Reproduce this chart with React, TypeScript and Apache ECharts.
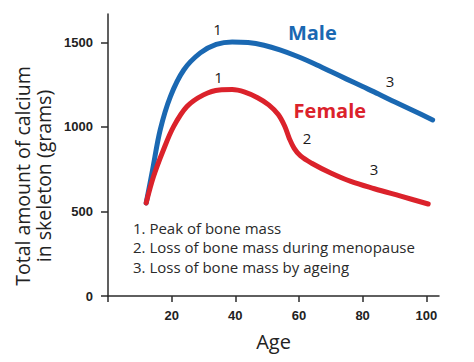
import React, { useEffect, useRef } from "react";
import * as echarts from "echarts";

const maleAge = [12, 14, 16.4, 19.6, 23.8, 29, 34, 39, 44, 49, 54, 59.6, 65, 70, 75, 80, 85, 90, 96, 102];
const maleCa = [550, 745, 982, 1179, 1336, 1437, 1487, 1502, 1498, 1482, 1455, 1416, 1372, 1327, 1282, 1238, 1194, 1148, 1095, 1041];

const femaleAge = [12, 14.3, 17.4, 20.6, 24.8, 30, 35, 39, 43, 47, 50.5, 53.5, 55.5, 57, 58.5, 60.5, 64, 70, 76.3, 83.7, 92, 100.6];
const femaleCa = [550, 706, 863, 1001, 1120, 1189, 1218, 1220, 1205, 1172, 1130, 1073, 1005, 930, 873, 828, 785, 727, 677, 634, 590, 544];

const xTicks = [0, 20, 40, 60, 80, 100];
const xLabels = [20, 40, 60, 80, 100];
const yTicks = [0, 500, 1000, 1500];

// annotation labels: [age, calcium, text]
const numberMarks: [number, number, string][] = [
  [34.4, 1579, "1"],
  [34.7, 1295, "1"],
  [62.5, 934, "2"],
  [88.6, 1271, "3"],
  [83.6, 751, "3"],
];
const seriesNames: [number, number, string][] = [
  [64.2, 1555, "Male"],
  [69.7, 1094, "Female"],
];

const notes = [
  "1. Peak of bone mass",
  "2. Loss of bone mass during menopause",
  "3. Loss of bone mass by ageing",
];

const yTitle = ["Total amount of calcium", "in skeleton (grams)"];

const MALE = "#1a68b2";
const FEMALE = "#db222b";
const AXIS = "#2b2b2b";

export default function App() {
  const ref = useRef<HTMLDivElement>(null);
  useEffect(() => {
    if (!ref.current) return;
    const chart = echarts.init(ref.current, null, { renderer: "svg" });
    const zip = (a: number[], b: number[]) => a.map((v, i) => [v, b[i]]);
    chart.setOption({
      animation: false,
      grid: { left: 108, right: 35, top: 14, bottom: 66 },
      xAxis: {
        type: "value",
        min: 0,
        max: 104,
        interval: 20,
        splitLine: { show: false },
        axisLine: { lineStyle: { color: AXIS, width: 1.5 } },
        axisTick: { show: true, length: 6, customValues: xTicks, lineStyle: { color: AXIS, width: 1.5 } },
        axisLabel: {
          customValues: xLabels,
          formatter: (v: number) => String(v),
          margin: 13,
          color: "#222",
          fontSize: 13,
          fontWeight: "bold",
          fontFamily: "Liberation Sans",
        },
        name: "Age",
        nameLocation: "middle",
        nameGap: 35,
        nameTextStyle: { color: "#222", fontSize: 20, fontFamily: "Open Sans" },
      },
      yAxis: {
        type: "value",
        min: 0,
        max: 1667,
        interval: 500,
        splitLine: { show: false },
        axisLine: { show: true, lineStyle: { color: AXIS, width: 1.5 } },
        axisTick: { show: true, length: 7, customValues: yTicks, lineStyle: { color: AXIS, width: 1.5 } },
        axisLabel: {
          customValues: yTicks,
          formatter: (v: number) => String(v),
          margin: 15,
          color: "#222",
          fontSize: 13,
          fontWeight: "bold",
          fontFamily: "Liberation Sans",
        },
      },
      graphic: [
        {
          type: "text",
          x: 33,
          y: 176,
          rotation: Math.PI / 2,
          style: {
            text: yTitle.join("\n"),
            fill: "#222",
            font: '19.5px "Open Sans"',
            lineHeight: 21,
            align: "center",
            verticalAlign: "middle",
          },
        },
        {
          type: "text",
          left: 133,
          top: 218,
          style: {
            text: notes.join("\n"),
            fill: "#2a2a2a",
            font: '15px "Open Sans"',
            lineHeight: 19.5,
          },
        },
      ],
      series: [
        {
          type: "line",
          name: "Male",
          data: zip(maleAge, maleCa),
          smooth: 0.35,
          symbol: "none",
          lineStyle: { color: MALE, width: 5, cap: "round", join: "round" },
        },
        {
          type: "line",
          name: "Female",
          data: zip(femaleAge, femaleCa),
          smooth: 0.35,
          symbol: "none",
          lineStyle: { color: FEMALE, width: 5, cap: "round", join: "round" },
        },
        {
          type: "scatter",
          symbolSize: 0,
          silent: true,
          itemStyle: { opacity: 1 },
          data: numberMarks.map((d) => ({ value: [d[0], d[1]], name: d[2] })),
          label: {
            show: true,
            position: "inside",
            formatter: (p: any) => p.name,
            color: "#1a1a1a",
            fontSize: 15,
            fontFamily: "Open Sans",
          },
        },
        {
          type: "scatter",
          symbolSize: 0,
          silent: true,
          itemStyle: { opacity: 1 },
          data: seriesNames.map((d, i) => ({
            value: [d[0], d[1]],
            name: d[2],
            label: { color: i === 0 ? MALE : FEMALE },
          })),
          label: {
            show: true,
            position: "inside",
            formatter: (p: any) => p.name,
            fontSize: 20,
            fontWeight: "bold",
            fontFamily: "Open Sans",
          },
        },
      ],
    });
    return () => chart.dispose();
  }, []);
  return (
    <div
      ref={ref}
      style={{ position: "fixed", left: 0, top: 0, width: 474, height: 362, background: "#fff" }}
    />
  );
}
